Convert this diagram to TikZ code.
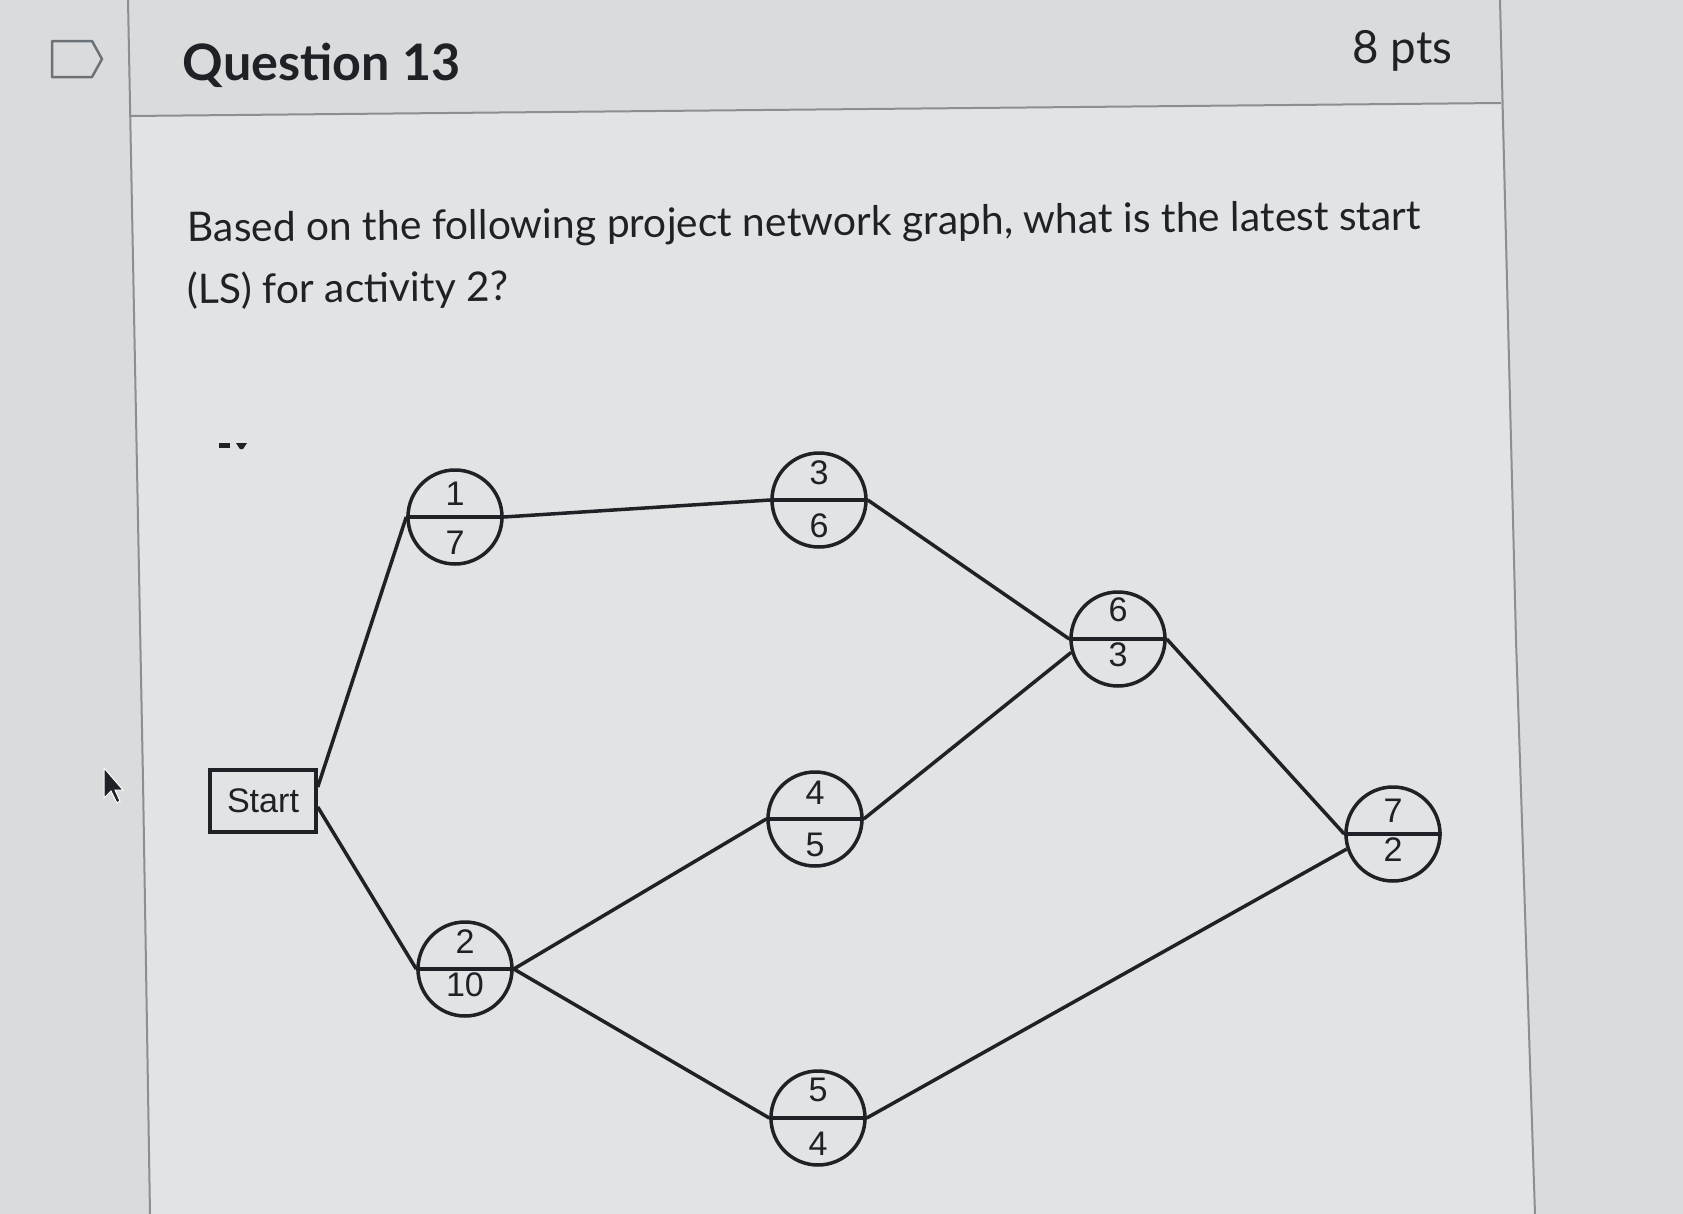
\documentclass[tikz,border=0pt]{standalone}
\usepackage{fontspec}
\setmainfont{Lato}
\newfontfamily\netfont{Liberation Sans}
\usetikzlibrary{positioning}
\definecolor{screen}{HTML}{D9DBDC}
\definecolor{panel}{HTML}{E1E3E4}
\definecolor{rule}{HTML}{8A8F94}
\definecolor{ink}{HTML}{1E2226}
\definecolor{iconc}{HTML}{6C7378}

\begin{document}
\begin{tikzpicture}[x=0.1mm,y=-0.1mm,
    act/.style={circle,draw=ink,line width=0.35mm,minimum size=9.4mm,inner sep=0pt},
    num/.style={font=\netfont\fontsize{9.7}{10}\selectfont,text=ink,inner sep=0pt},
    link/.style={draw=ink,line width=0.35mm},
    frame/.style={draw=rule,line width=0.2mm},
    txt/.style={anchor=base west,inner sep=0pt,text=ink}]
    \useasboundingbox (0,0) rectangle (1683,1214);
    % screen and question panel
    \fill[screen] (0,0) rectangle (1683,1214);
    \fill[panel] (129,116) -- (1501,103) -- (1516,640) -- (1535,1214) -- (150,1214) -- (143,780) -- cycle;
    \draw[frame] (128,0) -- (143,780) -- (150,1214);
    \draw[frame] (1500,0) -- (1505,200) -- (1516,640) -- (1535,1214);
    \draw[frame] (130,116) -- (1501,103);
    \draw[iconc,line width=0.25mm,line join=round] (52,41) -- (92,41) -- (102,59) -- (92,77) -- (52,77) -- cycle;
    % header and question text
    \node[txt,font=\bfseries\fontsize{14.3}{17}\selectfont] (qtitle) at (182,80) {Question 13};
    \node[txt,font=\fontsize{13}{15}\selectfont] (qpts) at (1352,64) {8 pts};
    \node[txt,rotate=0.57,font=\fontsize{11.6}{14}\selectfont] (qline1) at (187,242) {Based on the following project network graph, what is the latest start};
    \node[txt,rotate=0.57,font=\fontsize{11.6}{14}\selectfont] (qline2) at (187,304) {(LS) for activity 2?};
    % small marks and pointer
    \fill[ink] (219,443) rectangle (230,448);
    \fill[ink] (236,443) -- (247,443) -- (243,449) -- (240,449) -- cycle;
    \filldraw[fill=ink,draw=white,line width=0.1mm] (104,768) -- (104,798) -- (111,791) -- (117,803) -- (120,801) -- (115,790) -- (123,790) -- cycle;
    % network
    \node[draw=ink,line width=0.35mm,minimum width=10.6mm,minimum height=6.2mm,inner sep=0pt,
      font=\netfont\fontsize{9.7}{10}\selectfont,text=ink] (start) at (263,801) {Start};
    \foreach \n/\px/\py/\es/\du/\ut/\lt in {1/455/517/1/7/2.3/2.6,2/465/969/2/10/2.7/1.6,
        3/819/500/3/6/2.7/2.6,4/815/819/4/5/2.6/2.6,5/818/1118/5/4/2.8/2.6,
        6/1118/639/6/3/2.9/1.6,7/1393/834/7/2/2.3/1.6} {
      \node[act] (a\n) at (\px,\py) {};
      \draw[link] (a\n.west) -- (a\n.east);
      \node[num] (a\n-t) at ([yshift=\ut mm]a\n.center) {\es};
      \node[num] (a\n-b) at ([yshift=-\lt mm]a\n.center) {\du};
    }
    \draw[link] ([yshift=1.4mm]start.east) -- (a1.west);
    \draw[link] ([yshift=-0.6mm]start.east) -- (a2.west);
    \draw[link] (a1.east) -- (a3.west);
    \draw[link] (a3.east) -- (a6.west);
    \draw[link] (a2.east) -- (a4.west);
    \draw[link] (a2.east) -- (a5.west);
    \draw[link] (a4.east) -- (a6.196);
    \draw[link] (a5.east) -- (a7.198);
    \draw[link] (a6.east) -- (a7.west);
\end{tikzpicture}
\end{document}
